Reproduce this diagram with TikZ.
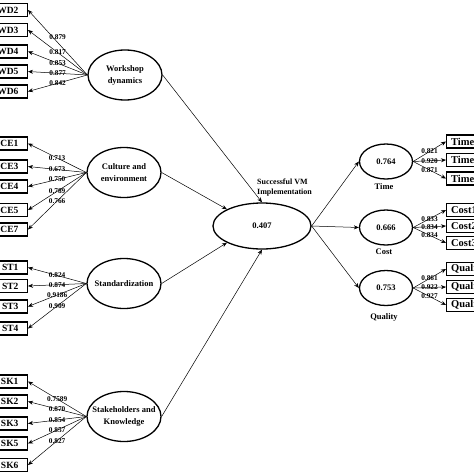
\documentclass[tikz,border=0pt]{standalone}
\usepackage{fontspec}
\setmainfont{Liberation Serif}
\usetikzlibrary{shapes.geometric,arrows.meta}
\begin{document}
\begin{tikzpicture}[x=1pt,y=-1pt,
  lat/.style={ellipse,draw,line width=1.3pt,inner sep=0pt},
  latl/.style={lat,minimum width=74pt,minimum height=50pt},
  latr/.style={lat,minimum width=53pt,minimum height=35pt},
  lattext/.style={font=\bfseries\fontsize{8.5}{12}\selectfont,align=center},
  ind/.style={draw,line width=1.2pt,minimum height=13pt,inner sep=0pt},
  lind/.style={ind,anchor=east,text width=36pt,align=right,inner xsep=9pt,font=\bfseries\fontsize{9.5}{10}\selectfont},
  rind/.style={ind,anchor=west,text width=52pt,align=left,inner xsep=4.5pt,font=\bfseries\fontsize{10.5}{11}\selectfont},
  arr/.style={line width=0.5pt,-{Stealth[length=5pt,width=4pt]}},
  load/.style={font=\bfseries\fontsize{7.3}{8}\selectfont,inner sep=0.5pt},
  latcap/.style={font=\bfseries\fontsize{8.5}{10}\selectfont}]
\useasboundingbox (0,0) rectangle (474,474);
\clip (0,0) rectangle (474,474);
\fill[white] (0,0) rectangle (474,474);

% latent constructs (left)
\node[latl,label={[lattext]center:Workshop\\dynamics}] (wd) at (125,75) {};
\node[latl,label={[lattext]center:Culture and\\environment}] (ce) at (124,172.5) {};
\node[latl,label={[lattext]center:Standardization}] (st) at (124,283.5) {};
\node[latl,label={[lattext]center:Stakeholders and\\Knowledge}] (sk) at (124,416.5) {};

% central construct
\node[lat,minimum width=98pt,minimum height=46pt,font=\bfseries\fontsize{8.5}{10}\selectfont] (sem) at (262,226) {0.407};
\node[anchor=west,align=left,font=\bfseries\fontsize{8}{10}\selectfont,inner sep=0pt] (semlab) at (257,188) {Successful VM\\Implementation};

% right constructs
\node[latr,font=\bfseries\fontsize{8.5}{10}\selectfont] (time) at (386,161.5) {0.764};
\node[latr,font=\bfseries\fontsize{8.5}{10}\selectfont] (cost) at (386,227.5) {0.666};
\node[latr,font=\bfseries\fontsize{8.5}{10}\selectfont] (qual) at (386,288) {0.753};
\node[latcap] (timelab) at (384,187) {Time};
\node[latcap] (costlab) at (384,252) {Cost};
\node[latcap] (quallab) at (384,317) {Quality};

% left indicators
\node[lind] (wd2) at (28,10) {WD2};
\node[lind] (wd3) at (28,30) {WD3};
\node[lind] (wd4) at (28,51.5) {WD4};
\node[lind] (wd5) at (28,71.5) {WD5};
\node[lind] (wd6) at (28,91.5) {WD6};
\node[lind] (ce1) at (28,143.5) {CE1};
\node[lind] (ce3) at (28,166.5) {CE3};
\node[lind] (ce4) at (28,186.5) {CE4};
\node[lind] (ce5) at (28,210) {CE5};
\node[lind] (ce7) at (28,229.5) {CE7};
\node[lind] (st1) at (28,267.5) {ST1};
\node[lind] (st2) at (28,286) {ST2};
\node[lind] (st3) at (28,306.5) {ST3};
\node[lind] (st4) at (28,328.5) {ST4};
\node[lind] (sk1) at (28,381.5) {SK1};
\node[lind] (sk2) at (28,401.5) {SK2};
\node[lind] (sk3) at (28,423.5) {SK3};
\node[lind] (sk5) at (28,443.5) {SK5};
\node[lind] (sk6) at (28,465) {SK6};

% right indicators
\node[rind] (t1) at (446,141.5) {Time1};
\node[rind] (t2) at (446,160) {Time2};
\node[rind] (t3) at (446,178.5) {Time3};
\node[rind] (c1) at (446,210) {Cost1};
\node[rind] (c2) at (446,226) {Cost2};
\node[rind] (c3) at (446,243) {Cost3};
\node[rind] (q1) at (446,269) {Quality1};
\node[rind] (q2) at (446,287) {Quality2};
\node[rind] (q3) at (446,305) {Quality3};

% loadings left
\draw[arr] (wd.west) -- node[load,yshift=5pt]{0.879} (wd2.east);
\draw[arr] (wd.west) -- node[load]{0.817} (wd3.east);
\draw[arr] (wd.west) -- node[load]{0.853} (wd4.east);
\draw[arr] (wd.west) -- node[load]{0.877} (wd5.east);
\draw[arr] (wd.west) -- node[load]{0.842} (wd6.east);
\draw[arr] (ce.west) -- node[load]{0.713} (ce1.east);
\draw[arr] (ce.west) -- node[load]{0.673} (ce3.east);
\draw[arr] (ce.west) -- node[load]{0.750} (ce4.east);
\draw[arr] (ce.west) -- node[load]{0.789} (ce5.east);
\draw[arr] (ce.west) -- node[load]{0.766} (ce7.east);
\draw[arr] (st.west) -- node[load]{0.824} (st1.east);
\draw[arr] (st.west) -- node[load]{0.874} (st2.east);
\draw[arr] (st.west) -- node[load]{0.9186} (st3.east);
\draw[arr] (st.west) -- node[load]{0.909} (st4.east);
\draw[arr] (sk.west) -- node[load]{0.7589} (sk1.east);
\draw[arr] (sk.west) -- node[load]{0.870} (sk2.east);
\draw[arr] (sk.west) -- node[load]{0.854} (sk3.east);
\draw[arr] (sk.west) -- node[load]{0.857} (sk5.east);
\draw[arr] (sk.west) -- node[load]{0.827} (sk6.east);

% structural paths
\draw[arr] (wd.east) -- (sem.north);
\draw[arr] (ce.east) -- (sem.north west);
\draw[arr] (st.east) -- (sem.south west);
\draw[arr] (sk.east) -- (sem.south);
\draw[arr] (sem.east) -- (time.west);
\draw[arr] (sem.east) -- (cost.west);
\draw[arr] (sem.east) -- (qual.west);

% loadings right
\draw[arr] (time.east) -- node[load]{0.821} (t1.west);
\draw[arr] (time.east) -- node[load]{0.920} (t2.west);
\draw[arr] (time.east) -- node[load]{0.871} (t3.west);
\draw[arr] (cost.east) -- node[load]{0.833} (c1.west);
\draw[arr] (cost.east) -- node[load]{0.834} (c2.west);
\draw[arr] (cost.east) -- node[load]{0.834} (c3.west);
\draw[arr] (qual.east) -- node[load]{0.861} (q1.west);
\draw[arr] (qual.east) -- node[load]{0.922} (q2.west);
\draw[arr] (qual.east) -- node[load]{0.927} (q3.west);
\end{tikzpicture}
\end{document}
